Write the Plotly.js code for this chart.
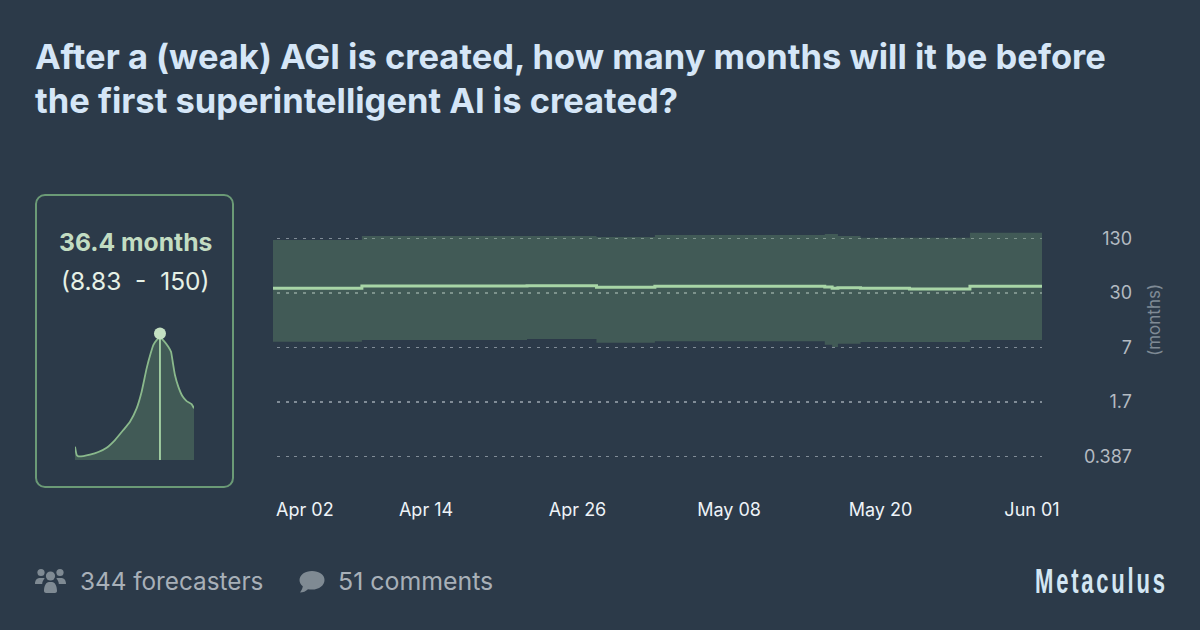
<!DOCTYPE html>
<html><head><meta charset="utf-8">
<script src="https://cdn.plot.ly/plotly-3.0.1.min.js"></script>
<style>
html,body{margin:0;padding:0;background:#2c3a49;width:1200px;height:630px;overflow:hidden}
#card{position:absolute;left:35px;top:194px;width:195px;height:290px;border:2px solid #6b9a76;border-radius:10px}
#plot{position:absolute;left:0;top:0;width:1200px;height:630px}
#people,#bubble{position:absolute}
#people{left:35px;top:568px}
#bubble{left:299px;top:570px}
#logo{position:absolute;left:1035px;top:561px;font:700 35px "Liberation Sans Narrow","Liberation Sans",sans-serif;letter-spacing:4.4px;color:#d3e6f3;white-space:nowrap;transform-origin:left top;transform:scaleX(.63)}
</style></head><body>
<div id="card"></div>
<div id="plot"></div>
<svg id="people" width="31" height="27" viewBox="0 0 31 27" fill="#7f8a93">
<circle cx="6" cy="4.5" r="3.6"/><circle cx="25" cy="4.5" r="3.6"/><circle cx="15.5" cy="8" r="4.6"/>
<path d="M0 16c0-4 2-6 5-6h3c.6 0 1.2.1 1.7.4C8 12 7.2 14 7.2 16H0zM31 16c0-4-2-6-5-6h-3c-.6 0-1.2.1-1.7.4 1.7 1.6 2.500 3.600 2.500 5.600H31zM9 23c0-5 2-9 5-9h3c3 0 5 4 5 9 0 1-1 2-2 2H11c-1 0-2-1-2-2z"/>
</svg>
<svg id="bubble" width="26" height="24" viewBox="0 0 26 24" fill="#7f8a93">
<path d="M13 1C6 1 .5 4.900.5 10c0 2.500 1.200 4.700 3.300 6.300C3.500 18.500 2.400 20.800 1 22.500c3 0 6-1.300 8-3.300 1.300.3 2.600.4 4 .4 7 0 12.500-4.200 12.500-9.600S20 1 13 1z"/>
</svg>
<div id="logo">Metaculus</div>
<script>
var titleLines = ["After a (weak) AGI is created, how many months will it be before", "the first superintelligent AI is created?"];
var segmentDates = ["2023-04-01 21:00","2023-04-08 22:00","2023-04-22 00:00","2023-04-27 12:00","2023-05-02 03:00","2023-05-15 14:00","2023-05-16 04:00","2023-05-16 15:00","2023-05-18 10:00","2023-05-22 07:00","2023-05-27 02:00","2023-06-01 19:00"];
var medianMonths = [34.4,36.6,36.9,35.4,36.3,35.6,34.4,35.0,34.5,33.8,36.3,36.3];
var upperMonths = [125,139,139,135,143,147,147,139,133,133,152,152];
var lowerMonths = [8.28,8.67,8.9,8.07,8.37,7.64,7.19,7.85,8.22,8.22,8.67,8.67];
var yTickVals = [0.387,1.66,7.1,30.4,130];
var yTickText = ["0.387","1.7","7","30","130"];
var xTickVals = ["2023-04-02","2023-04-14","2023-04-26","2023-05-08","2023-05-20","2023-06-01"];
var xTickText = ["","Apr 14","Apr 26","May 08","May 20","Jun 01"];
var firstTickLabel = "Apr 02";
var densityX = [0,.014,.028,.07,.126,.196,.266,.336,.406,.462,.518,.56,.602,.636,.658,.686,.714,.748,.784,.807,.821,.84,.868,.902,.938,.98,1];
var densityY = [.108,.041,.03,.032,.043,.065,.1,.162,.243,.311,.419,.554,.743,.865,.932,.973,.995,.965,.919,.878,.797,.689,.595,.519,.478,.454,.419];
var medianPosition = [0.714];
var medianPeak = [1.027];
var statMain = "36.4 months";
var statRange = "(8.83  -  150)";
var unitLabel = "(months)";
var forecasters = "344 forecasters";
var comments = "51 comments";

var W=1200,H=630;
function px(x){return x/W}
function py(y){return 1-y/H}
var lineCol="#a8d5a6", fillCol="rgba(117,165,117,0.3)";
var traces=[
 {x:segmentDates,y:lowerMonths,type:"scatter",mode:"lines",line:{width:0,shape:"hv"},hoverinfo:"skip",showlegend:false},
 {x:segmentDates,y:upperMonths,type:"scatter",mode:"lines",line:{width:0,shape:"hv"},fill:"tonexty",fillcolor:fillCol,hoverinfo:"skip",showlegend:false},
 {x:segmentDates,y:medianMonths,type:"scatter",mode:"lines",line:{width:3,shape:"hv",color:lineCol},showlegend:false},
 {x:densityX,y:densityY,xaxis:"x2",yaxis:"y2",type:"scatter",mode:"lines",fill:"tozeroy",fillcolor:fillCol,line:{width:1.8,color:"#8ab98c",shape:"spline",smoothing:.4},showlegend:false},
 {x:[medianPosition[0],medianPosition[0]],y:[0,medianPeak[0]],xaxis:"x2",yaxis:"y2",type:"scatter",mode:"lines",line:{width:1.8,color:"#a8d5a6"},showlegend:false},
 {x:medianPosition,y:medianPeak,xaxis:"x2",yaxis:"y2",type:"scatter",mode:"markers",marker:{size:12,color:"#c4e0c2"},cliponaxis:false,showlegend:false}
];
function note(text,x,y,size,color,extra){
 return Object.assign({text:text,xref:"paper",yref:"paper",x:px(x),y:py(y),xanchor:"left",yanchor:"middle",showarrow:false,font:{family:"Inter, sans-serif",size:size,color:color}},extra||{});
}
var layout={
 width:W,height:H,margin:{l:0,r:0,t:0,b:0},paper_bgcolor:"rgba(0,0,0,0)",plot_bgcolor:"rgba(0,0,0,0)",showlegend:false,
 title:{text:titleLines.join("<br>"),x:px(35),xref:"paper",xanchor:"left",y:py(68.500),yref:"paper",yanchor:"middle",font:{family:"Inter, sans-serif",size:34.5,weight:700,color:"#d5e6f7"}},
 font:{family:"Inter, sans-serif"},
 xaxis:{type:"date",domain:[px(273),px(1042)],range:["2023-04-01 21:00","2023-06-01 19:00"],tickmode:"array",tickvals:xTickVals,ticktext:xTickText,tickfont:{size:18,color:"#eef3f8"},ticks:"",showgrid:false,showline:false,zeroline:false,anchor:"free",position:py(497)},
 yaxis:{type:"log",domain:[py(462),py(230)],range:[-0.476,2.2125],tickmode:"array",tickvals:yTickVals,ticktext:yTickText,side:"left",anchor:"free",position:px(1132),tickfont:{size:18,color:"#b4bbc2"},ticks:"",showline:false,zeroline:false,showgrid:true,gridcolor:"rgba(200,208,215,0.55)",gridwidth:1.5,griddash:"0px,4px,3px,1.67px"},
 xaxis2:{domain:[px(75),px(194)],range:[0,1],anchor:"y2",visible:false},
 yaxis2:{domain:[py(460),py(324.4)],range:[0,1.1],anchor:"x2",visible:false},
 annotations:[
  {text:firstTickLabel,xref:"paper",yref:"paper",x:px(274),y:py(509),xanchor:"left",yanchor:"middle",showarrow:false,font:{family:"Inter, sans-serif",size:18,color:"#eef3f8"}},
  {text:unitLabel,xref:"paper",yref:"paper",x:px(1154),y:py(320),xanchor:"center",yanchor:"middle",textangle:-90,showarrow:false,font:{family:"Inter, sans-serif",size:17,color:"#7f8a95"}},
  note("<b>"+statMain+"</b>",135,242,24.7,"#c2dcc2",{xanchor:"center"}),
  note(statRange.replace(/  /g,"\u00a0\u00a0"),135,281,24.5,"#e6f1e6",{xanchor:"center"}),
  note(forecasters,78,581,24.3,"#a8b0b8"),
  note(comments,336,581,24.9,"#a8b0b8")
 ]
};
Plotly.newPlot("plot",traces,layout,{displayModeBar:false,staticPlot:true});
</script>
</body></html>
